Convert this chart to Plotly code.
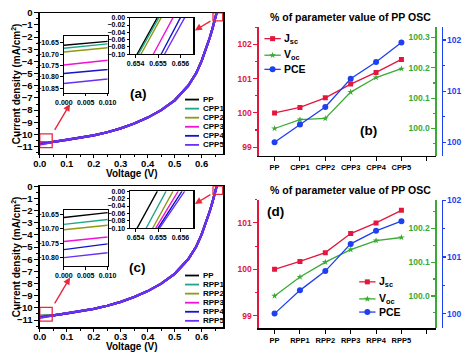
import plotly.graph_objects as go

W, H = 474, 356
FONT = "Liberation Sans, Arial, sans-serif"

RED = "#e3173e"
GREEN = "#3aaa35"
BLUE = "#1e40f0"
ARROW_RED = "#e8283c"

# ---------------- J-V data ----------------
V_MAIN = [0.0, 0.01, 0.05, 0.10, 0.15, 0.20, 0.25, 0.30, 0.35, 0.40, 0.45,
          0.50, 0.55, 0.58, 0.60, 0.62, 0.63, 0.64, 0.65]
J_BODY = [-10.62, -10.45, -10.28, -10.08, -9.82, -9.50, -9.10, -8.62, -8.00,
          -7.20, -6.00, -4.95, -3.95, -2.75, -2.05, -1.30, -0.55]
J_EDGE = [-0.10, 0.00]

SERIES_A = ["PP", "CPP1", "CPP2", "CPP3", "CPP4", "CPP5"]
J_START_A = [[-10.660, -10.643], [-10.673, -10.654], [-10.690, -10.671],
             [-10.747, -10.726], [-10.785, -10.767], [-10.829, -10.809]]
V_EDGE_A = [[0.65405, 0.65497], [0.65414, 0.65504], [0.65424, 0.65514],
            [0.65479, 0.65567], [0.65514, 0.65600], [0.65529, 0.65619]]

SERIES_C = ["PP", "RPP1", "RPP2", "RPP3", "RPP4", "RPP5"]
J_START_C = [[-10.660, -10.643], [-10.684, -10.667], [-10.703, -10.687],
             [-10.744, -10.728], [-10.772, -10.752], [-10.800, -10.783]]
V_EDGE_C = [[0.65405, 0.65497], [0.65447, 0.65536], [0.65476, 0.65567],
            [0.65490, 0.65590], [0.65500, 0.65607], [0.65507, 0.65619]]

LINE_COLORS = ["#000000", "#1fa58a", "#8c9a14", "#f012d6", "#1414c8", "#6a30f5"]

# ---------------- % parameter data ----------------
CATS_B = ["PP", "CPP1", "CPP2", "CPP3", "CPP4", "CPP5"]
JSC_B = [100.0, 100.16, 100.44, 100.84, 101.18, 101.56]
VOC_B = [100.0, 100.029, 100.033, 100.12, 100.168, 100.197]
PCE_B = [100.0, 100.35, 100.69, 101.24, 101.57, 101.95]

CATS_D = ["PP", "RPP1", "RPP2", "RPP3", "RPP4", "RPP5"]
JSC_D = [100.0, 100.17, 100.36, 100.77, 101.0, 101.27]
VOC_D = [100.0, 100.056, 100.10, 100.137, 100.164, 100.173]
PCE_D = [100.0, 100.41, 100.75, 101.23, 101.46, 101.63]

PARAM_NAMES = ["J<sub>sc</sub>", "V<sub>oc</sub>", "PCE"]
TITLE_BD = "% of parameter value of PP OSC"
X_TITLE_JV = "Voltage (V)"
Y_TITLE_JV = "Current density (mA/cm<sup>2</sup>)"


def fx(px):
    return px / W


def fy(py):
    return 1 - py / H


def dom_x(a, b):
    return [fx(a), fx(b)]


def dom_y(top, bottom):
    return [fy(bottom), fy(top)]


def fnt(size, color="black"):
    return dict(family=FONT, size=size, color=color, weight="bold")


def frame_axis(size=9.5, ticklen=4, lw=1.3, **kw):
    d = dict(showline=True, linecolor="black", linewidth=lw, mirror=True,
             ticks="outside", ticklen=ticklen, tickwidth=1, tickcolor="black",
             showgrid=False, zeroline=False, tickfont=fnt(size), tickangle=0)
    d.update(kw)
    return d


fig = go.Figure()

# ---------------- J-V panels ----------------
jv_panels = [
    (SERIES_A, J_START_A, V_EDGE_A, ("x", "y"), ("x2", "y2"), ("x3", "y3")),
    (SERIES_C, J_START_C, V_EDGE_C, ("x4", "y4"), ("x5", "y5"), ("x6", "y6")),
]
for names, jstart, vedge, main_ax, left_ax, right_ax in jv_panels:
    for i, name in enumerate(names):
        xs = V_MAIN + vedge[i]
        ys = jstart[i] + J_BODY + J_EDGE
        for (xa, ya), w in ((main_ax, 2.2), (left_ax, 1.4), (right_ax, 1.4)):
            fig.add_trace(go.Scatter(x=xs, y=ys, mode="lines", name=name,
                                     line=dict(color=LINE_COLORS[i], width=w),
                                     xaxis=xa, yaxis=ya, showlegend=False,
                                     hoverinfo="skip"))

# ---------------- parameter panels ----------------
param_panels = [
    (CATS_B, JSC_B, VOC_B, PCE_B, "x7", ("y7", "y8", "y9")),
    (CATS_D, JSC_D, VOC_D, PCE_D, "x8", ("y10", "y11", "y12")),
]
marker_styles = [dict(symbol="square", size=5, color=RED),
                 dict(symbol="star", size=5, color=GREEN),
                 dict(symbol="circle", size=6, color=BLUE)]
line_cols = [RED, GREEN, BLUE]
for cats, jsc, voc, pce, xa, yas in param_panels:
    idx = list(range(len(cats)))
    for k, vals in enumerate((jsc, voc, pce)):
        fig.add_trace(go.Scatter(x=idx, y=vals, mode="lines+markers",
                                 name=PARAM_NAMES[k],
                                 line=dict(color=line_cols[k], width=1.3),
                                 marker=marker_styles[k], xaxis=xa, yaxis=yas[k],
                                 showlegend=False, hoverinfo="skip"))

# ---------------- hand-built legends on a pixel overlay axis ----------------
annotations = []
LEG_JV = [(SERIES_A, 96.0), (SERIES_C, 276.5)]
for names, y0 in LEG_JV:
    for i, name in enumerate(names):
        yy = y0 + 9.3 * i
        fig.add_trace(go.Scatter(x=[183, 197.5], y=[yy, yy], mode="lines",
                                 line=dict(color=LINE_COLORS[i], width=1.8),
                                 xaxis="x9", yaxis="y13", showlegend=False,
                                 hoverinfo="skip"))
        annotations.append(dict(x=199.5, y=yy, xref="x9", yref="y13", text=name,
                                showarrow=False, xanchor="left", yanchor="middle",
                                font=fnt(8)))

LEG_P = [(265.5, 282.5, [33.5, 50.5, 65.0]), (364, 381, [283.0, 300.5, 314.0])]
for xa0, xa1, ys in LEG_P:
    for k in range(3):
        fig.add_trace(go.Scatter(x=[xa0, xa1], y=[ys[k]] * 2, mode="lines",
                                 line=dict(color=line_cols[k], width=1.3),
                                 xaxis="x9", yaxis="y13", showlegend=False,
                                 hoverinfo="skip"))
        fig.add_trace(go.Scatter(x=[(xa0 + xa1) / 2], y=[ys[k]], mode="markers",
                                 marker=marker_styles[k],
                                 xaxis="x9", yaxis="y13", showlegend=False,
                                 hoverinfo="skip"))
        annotations.append(dict(x=xa1 + 1.5, y=ys[k], xref="x9", yref="y13",
                                text=PARAM_NAMES[k], showarrow=False,
                                xanchor="left", yanchor="middle", font=fnt(10.5)))

# panel labels and titles
for txt, x, y, s in [("(a)", 135, 90, 13.5), ("(c)", 134, 268, 13.5),
                     ("(b)", 374, 128, 13.5), ("(d)", 277, 211, 13.5)]:
    annotations.append(dict(x=x, y=y, xref="x9", yref="y13", text=txt,
                            showarrow=False, xanchor="center", yanchor="middle",
                            font=fnt(s)))
for y in (11.5, 188.5):
    annotations.append(dict(x=355, y=y, xref="x9", yref="y13", text=TITLE_BD,
                            showarrow=False, xanchor="center", yanchor="middle",
                            font=fnt(10.5)))

# J-V axis titles
for dy in (0, 177.5):
    annotations.append(dict(x=127, y=172 + dy, xref="x9", yref="y13",
                            text=X_TITLE_JV, showarrow=False, xanchor="center",
                            yanchor="middle", font=fnt(10)))
    annotations.append(dict(x=7.5, y=80 + dy, xref="x9", yref="y13",
                            text=Y_TITLE_JV, showarrow=False, xanchor="center",
                            yanchor="middle", textangle=-90, font=fnt(10)))

# arrows from red boxes to insets
for xa, ya in (("x", "y"), ("x4", "y4")):
    annotations.append(dict(x=0.112, y=-7.5, ax=0.052, ay=-9.75, xref=xa, yref=ya,
                            axref=xa, ayref=ya, text="", showarrow=True,
                            arrowhead=2, arrowsize=1, arrowwidth=1.4,
                            arrowcolor=ARROW_RED))
    annotations.append(dict(x=0.575, y=-1.45, ax=0.638, ay=-0.6, xref=xa, yref=ya,
                            axref=xa, ayref=ya, text="", showarrow=True,
                            arrowhead=2, arrowsize=1, arrowwidth=1.4,
                            arrowcolor=ARROW_RED))

shapes = []
for xa, ya in (("x", "y"), ("x4", "y4")):
    shapes.append(dict(type="rect", xref=xa, yref=ya, x0=0.0, x1=0.046,
                       y0=-11.08, y1=-9.96, line=dict(color=ARROW_RED, width=1.3)))
    shapes.append(dict(type="rect", xref=xa, yref=ya, x0=0.642, x1=0.678,
                       y0=-0.66, y1=0.0, line=dict(color=ARROW_RED, width=1.3)))

# ---------------- axes ----------------
layout = dict(width=W, height=H, margin=dict(l=0, r=0, t=0, b=0),
              paper_bgcolor="white", plot_bgcolor="rgba(0,0,0,0)",
              font=dict(family=FONT, size=10, color="black", weight="bold"),
              showlegend=False, annotations=annotations, shapes=shapes)

main_x = lambda y_anchor: frame_axis(
    domain=dom_x(32, 222.7), anchor=y_anchor, range=[0, 0.68], dtick=0.1,
    tick0=0, tickformat=".1f", ticklen=3, ticklabelstandoff=-3,
    minor=dict(ticks="outside", ticklen=2, dtick=0.05, tickcolor="black"))
main_y = lambda x_anchor, top, bottom: frame_axis(
    domain=dom_y(top, bottom), anchor=x_anchor, range=[-11.6, 0.0], dtick=1,
    tick0=0, minor=dict(ticks="outside", ticklen=2, dtick=0.5, tickcolor="black"))

layout["xaxis"] = main_x("y")
layout["yaxis"] = main_y("x", 7, 151.7)
layout["xaxis4"] = main_x("y4")
layout["yaxis4"] = main_y("x4", 185, 329.7)

inset_l_x = lambda a: frame_axis(size=7, ticklen=2.5, lw=1.1, domain=dom_x(57, 102.5),
                                 anchor=a, range=[0, 0.010], dtick=0.005,
                                 tickformat=".3f")
layout["xaxis2"] = inset_l_x("y2")
layout["yaxis2"] = frame_axis(size=7, ticklen=2.5, lw=1.1, domain=dom_y(31, 89),
                              anchor="x2", range=[-10.87, -10.62], dtick=0.05,
                              tick0=-10.65, tickformat=".2f")
layout["xaxis5"] = inset_l_x("y5")
layout["yaxis5"] = frame_axis(size=7, ticklen=2.5, lw=1.1, domain=dom_y(209, 267),
                              anchor="x5", range=[-10.83, -10.633], dtick=0.05,
                              tick0=-10.65, tickformat=".2f")

inset_r_x = lambda a: frame_axis(size=7, ticklen=2.5, lw=1.1, domain=dom_x(126, 191.7),
                                 anchor=a, range=[0.65376, 0.65658], dtick=0.001,
                                 tick0=0.654, tickformat=".3f")
layout["xaxis3"] = inset_r_x("y3")
layout["yaxis3"] = frame_axis(size=7, ticklen=2.5, lw=1.1, domain=dom_y(12, 49.5),
                              anchor="x3", range=[-0.1, 0.0], dtick=0.02,
                              tickformat=".2f")
layout["xaxis6"] = inset_r_x("y6")
layout["yaxis6"] = frame_axis(size=7, ticklen=2.5, lw=1.1, domain=dom_y(190, 228),
                              anchor="x6", range=[-0.1, 0.0], dtick=0.02,
                              tickformat=".2f")


def cat_axis(cats, anchor):
    idx = list(range(len(cats)))
    return dict(domain=dom_x(259.7, 444.3), anchor=anchor, range=[-0.62, 6.38],
                tickmode="array", tickvals=idx, ticktext=cats, showline=True,
                linecolor="black", linewidth=1.3, ticks="outside", ticklen=4,
                tickcolor="black", showgrid=False, zeroline=False,
                tickfont=fnt(7.5), tickangle=0,
                minor=dict(tickmode="array", tickvals=[len(cats)], ticks="outside",
                           ticklen=4, tickcolor="black"))


def color_axis(color, rng, dtick, fmt, minor_dtick, **kw):
    d = dict(range=rng, dtick=dtick, tickformat=fmt, showline=True,
             linecolor=color, linewidth=1.5, ticks="outside", ticklen=4,
             tickcolor=color, tickwidth=1.2, showgrid=False, zeroline=False,
             tickfont=fnt(8.5, color),
             minor=dict(ticks="outside", ticklen=2, dtick=minor_dtick, tickcolor=color))
    d.update(kw)
    return d


blue_extra = dict(ticklen=3, ticklabelstandoff=-1, ticklabeloverflow="allow")

layout["xaxis7"] = cat_axis(CATS_B, "y7")
layout["yaxis7"] = color_axis(RED, [98.74, 102.5], 1, "d", 0.5,
                              domain=dom_y(21.7, 154), anchor="x7")
layout["yaxis8"] = color_axis(GREEN, [99.909, 100.334], 0.1, ".1f", 0.05,
                              overlaying="y7", anchor="free", position=fx(444.3),
                              side="left", linewidth=2)
layout["yaxis9"] = color_axis(BLUE, [99.73, 102.25], 1, "d", 0.5,
                              overlaying="y7", anchor="free", position=fx(450),
                              side="right", **blue_extra)

layout["xaxis8"] = cat_axis(CATS_D, "y10")
layout["yaxis10"] = color_axis(RED, [98.73, 101.5], 1, "d", 0.5,
                               domain=dom_y(198.7, 330.7), anchor="x8")
layout["yaxis11"] = color_axis(GREEN, [99.904, 100.285], 0.1, ".1f", 0.05,
                               overlaying="y10", anchor="free", position=fx(444.3),
                               side="left", linewidth=2)
layout["yaxis12"] = color_axis(BLUE, [99.74, 102.01], 1, "d", 0.5,
                               overlaying="y10", anchor="free", position=fx(450),
                               side="right", **blue_extra)

# pixel overlay axis for legends / labels
layout["xaxis9"] = dict(domain=[0, 1], range=[0, W], visible=False, anchor="y13",
                        fixedrange=True)
layout["yaxis13"] = dict(domain=[0, 1], range=[H, 0], visible=False, anchor="x9",
                         fixedrange=True)

fig.update_layout(**layout)
fig.write_html("out.html",
               config={"displayModeBar": False, "staticPlot": True},
               post_script="document.body.style.margin='0';"
                           "document.body.style.overflow='hidden';")
